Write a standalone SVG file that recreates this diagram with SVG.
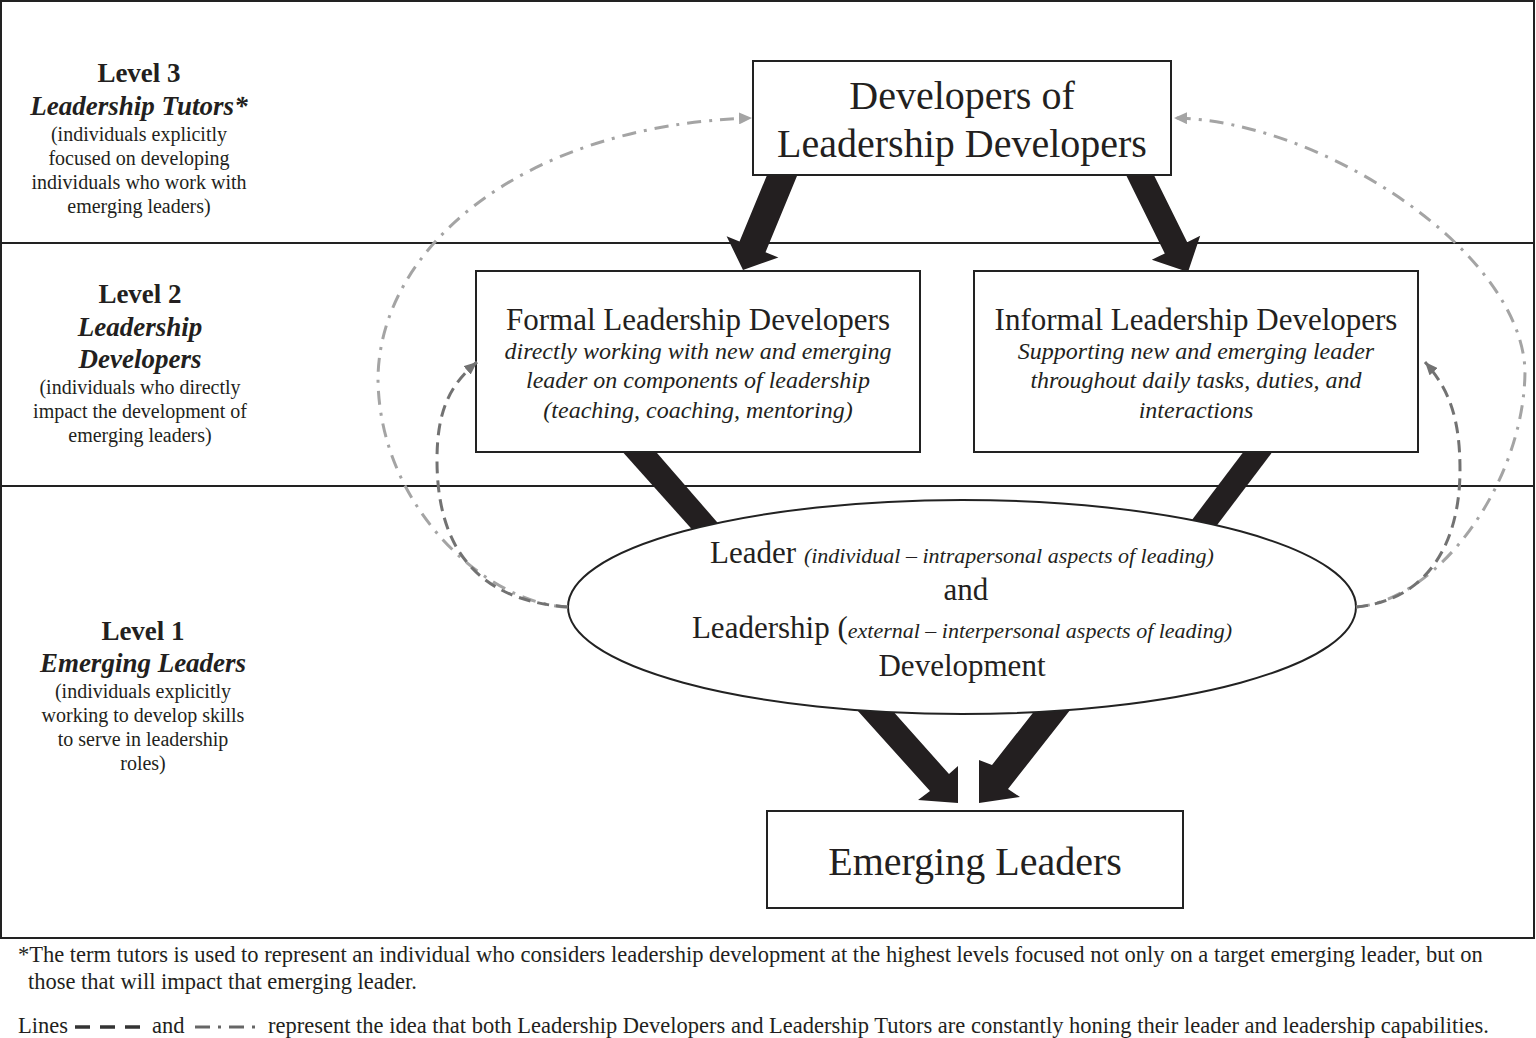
<svg xmlns="http://www.w3.org/2000/svg" width="1536" height="1038" viewBox="0 0 1536 1038">
<style>
.frame{fill:none;stroke:#222;stroke-width:2}
.box{fill:#fff;stroke:#222;stroke-width:2}
.thick{fill:#231f20;stroke:none}
.t{font-family:"Liberation Serif","Times New Roman",serif;fill:#231f20}
.lvl{font-weight:bold;font-size:27px}
.lvlname{font-weight:bold;font-style:italic;font-size:27px}
.desc{font-size:20px}
.big{font-size:40px}
.title{font-size:31px}
.it{font-style:italic;font-size:24px}
.el{font-size:31px}
.eli{font-style:italic;font-size:22px}
.foot{font-size:22.5px}
.dashed{fill:none;stroke:#727272;stroke-width:3;stroke-dasharray:12 7}
.dashdot{fill:none;stroke:#a4a4a4;stroke-width:3;stroke-dasharray:14 8 3 8}
</style>
<defs>
<marker id="ahDark" markerUnits="userSpaceOnUse" markerWidth="13" markerHeight="11" refX="13" refY="5.5" orient="auto">
<path d="M0,0 L13,5.5 L0,11 z" fill="#727272"/>
</marker>
<marker id="ahLight" markerUnits="userSpaceOnUse" markerWidth="13" markerHeight="12" refX="13" refY="6" orient="auto">
<path d="M0,0 L13,6 L0,12 z" fill="#a4a4a4"/>
</marker>
</defs>
<rect x="0" y="0" width="1536" height="1038" fill="#fff"/>
<rect class="frame" x="1" y="1" width="1533" height="937"/>
<line class="frame" x1="1" y1="243" x2="1534" y2="243"/>
<line class="frame" x1="1" y1="486" x2="1534" y2="486"/>

<g id="connectors">
<polygon class="thick" points="775,155.7 801,166.3 765.5,252.2 778.4,257.5 743,270 726.6,236.3 739.5,241.6"/>
<polygon class="thick" points="1144.5,155.9 1187.2,242.2 1200.2,235.8 1188,272 1151.8,259.8 1164.8,253.4 1122.1,167.1"/>
<polygon class="thick" points="603,430 637,430 737,545 706,545"/>
<polygon class="thick" points="1260,430 1289,430 1202,545 1173,545"/>
<polygon class="thick" points="848,700 883,700 949,774 958,766 958,803 918,800 930,791"/>
<polygon class="thick" points="1043,700 1078,700 1008,789 1020,797 979,803 979,760 992,765"/>
</g>

<g id="node-top">
<rect class="box" x="753" y="61" width="418" height="114"/>
<text class="t big" x="962" y="109" text-anchor="middle">Developers of</text>
<text class="t big" x="962" y="157" text-anchor="middle">Leadership Developers</text>
</g>

<g id="node-formal">
<rect class="box" x="476" y="271" width="444" height="181"/>
<text class="t title" x="698" y="330" text-anchor="middle">Formal Leadership Developers</text>
<text class="t it" x="698" y="359" text-anchor="middle">directly working with new and emerging</text>
<text class="t it" x="698" y="388" text-anchor="middle">leader on components of leadership</text>
<text class="t it" x="698" y="418" text-anchor="middle">(teaching, coaching, mentoring)</text>
</g>

<g id="node-informal">
<rect class="box" x="974" y="271" width="444" height="181"/>
<text class="t title" x="1196" y="330" text-anchor="middle">Informal Leadership Developers</text>
<text class="t it" x="1196" y="359" text-anchor="middle">Supporting new and emerging leader</text>
<text class="t it" x="1196" y="388" text-anchor="middle">throughout daily tasks, duties, and</text>
<text class="t it" x="1196" y="418" text-anchor="middle">interactions</text>
</g>

<g id="node-development">
<ellipse class="box" cx="962" cy="607" rx="394" ry="107"/>
<text class="t" x="962" y="563" text-anchor="middle"><tspan class="el">Leader </tspan><tspan class="eli">(individual – intrapersonal aspects of leading)</tspan></text>
<text class="t el" x="966" y="600" text-anchor="middle">and</text>
<text class="t" x="962" y="638" text-anchor="middle"><tspan class="el">Leadership (</tspan><tspan class="eli">external – interpersonal aspects of leading)</tspan></text>
<text class="t el" x="962" y="676" text-anchor="middle">Development</text>
</g>

<g id="node-emerging">
<rect class="box" x="767" y="811" width="416" height="97"/>
<text class="t big" x="975" y="875" text-anchor="middle">Emerging Leaders</text>
</g>

<g id="feedback-connectors">
<path class="dashdot" d="M568,607 C490,605 380,510 378,380 C378,250 520,125 752,118" marker-end="url(#ahLight)"/>
<path class="dashdot" d="M1356,607 C1440,600 1525,480 1525,370 C1520,250 1320,120 1174,118" marker-end="url(#ahLight)"/>
<path class="dashed" d="M568,607 C470,600 437,540 437,460 C437,410 450,385 477,362" marker-end="url(#ahDark)"/>
<path class="dashed" d="M1356,607 C1430,600 1460,540 1460,470 C1460,420 1450,390 1425,362" marker-end="url(#ahDark)"/>
</g>

<g id="label-level3">
<text class="t lvl" x="139" y="82" text-anchor="middle">Level 3</text>
<text class="t lvlname" x="139" y="115" text-anchor="middle">Leadership Tutors*</text>
<text class="t desc" x="139" y="141" text-anchor="middle">(individuals explicitly</text>
<text class="t desc" x="139" y="165" text-anchor="middle">focused on developing</text>
<text class="t desc" x="139" y="189" text-anchor="middle">individuals who work with</text>
<text class="t desc" x="139" y="213" text-anchor="middle">emerging leaders)</text>
</g>

<g id="label-level2">
<text class="t lvl" x="140" y="303" text-anchor="middle">Level 2</text>
<text class="t lvlname" x="140" y="336" text-anchor="middle">Leadership</text>
<text class="t lvlname" x="140" y="368" text-anchor="middle">Developers</text>
<text class="t desc" x="140" y="394" text-anchor="middle">(individuals who directly</text>
<text class="t desc" x="140" y="418" text-anchor="middle">impact the development of</text>
<text class="t desc" x="140" y="442" text-anchor="middle">emerging leaders)</text>
</g>

<g id="label-level1">
<text class="t lvl" x="143" y="640" text-anchor="middle">Level 1</text>
<text class="t lvlname" x="143" y="672" text-anchor="middle">Emerging Leaders</text>
<text class="t desc" x="143" y="698" text-anchor="middle">(individuals explicitly</text>
<text class="t desc" x="143" y="722" text-anchor="middle">working to develop skills</text>
<text class="t desc" x="143" y="746" text-anchor="middle">to serve in leadership</text>
<text class="t desc" x="143" y="770" text-anchor="middle">roles)</text>
</g>

<g id="footnote">
<text class="t foot" x="18" y="962">*The term tutors is used to represent an individual who considers leadership development at the highest levels focused not only on a target emerging leader, but on</text>
<text class="t foot" x="28" y="989">those that will impact that emerging leader.</text>
<text class="t foot" x="18" y="1033">Lines</text>
<g stroke="#333" stroke-width="3.5">
<line x1="75" y1="1027" x2="90" y2="1027"/>
<line x1="100" y1="1027" x2="115" y2="1027"/>
<line x1="125" y1="1027" x2="140" y2="1027"/>
</g>
<text class="t foot" x="152" y="1033">and</text>
<g stroke="#666" stroke-width="3">
<line x1="195" y1="1027" x2="210" y2="1027"/>
<line x1="218" y1="1027" x2="221" y2="1027"/>
<line x1="229" y1="1027" x2="244" y2="1027"/>
<line x1="252" y1="1027" x2="255" y2="1027"/>
</g>
<text class="t foot" x="268" y="1033">represent the idea that both Leadership Developers and Leadership Tutors are constantly honing their leader and leadership capabilities.</text>
</g>
</svg>
